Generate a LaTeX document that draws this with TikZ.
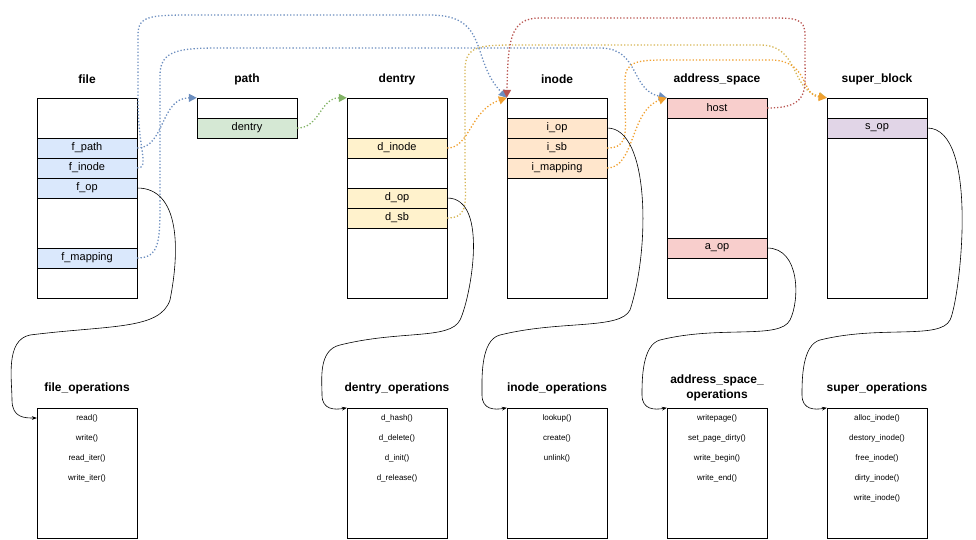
\documentclass[tikz,border=0pt]{standalone}
\usepackage{fontspec}
\setmainfont{Liberation Sans}
\usetikzlibrary{arrows.meta}
\definecolor{bF}{HTML}{DAE8FC}\definecolor{bL}{HTML}{6C8EBF}
\definecolor{gF}{HTML}{D5E8D4}\definecolor{gL}{HTML}{82B366}
\definecolor{yF}{HTML}{FFF2CC}\definecolor{yL}{HTML}{D6B656}
\definecolor{oF}{HTML}{FFE6CC}\definecolor{oL}{HTML}{F0A030}
\definecolor{rF}{HTML}{F8CECC}\definecolor{rL}{HTML}{B85450}
\definecolor{pF}{HTML}{E1D5E7}
\begin{document}
\begin{tikzpicture}[x=1pt,y=-1pt,
 box/.style={draw,minimum width=100pt,inner sep=0pt},
 row/.style={draw,minimum width=100pt,minimum height=20pt,inner sep=0pt,font=\fontsize{11}{11}\selectfont},
 ttl/.style={font=\bfseries\fontsize{12}{14}\selectfont,align=center},
 op/.style={font=\fontsize{8}{8}\selectfont},
 dl/.style={dotted,line width=1.3pt,-{Triangle[width=8pt,length=8pt]}},
 bl/.style={line width=0.6pt,-{Stealth[length=5pt]}}]
\useasboundingbox (0,0) rectangle (976,539);
% top boxes
\foreach \n/\x/\h in {file/87/200,dentry/397/200,inode/557/200,as/717/200,sb/877/200}
  \node[box,minimum height=\h pt] (\n) at (\x,198) {};
\node[box,minimum height=40pt] (path) at (247,118) {};
\node[ttl] (t1) at (87,79) {file};
\node[ttl] (t2) at (247,79) {path};
\node[ttl] (t3) at (397,79) {dentry};
\node[ttl] (t4) at (557,79) {inode};
\node[ttl] (t5) at (717,79) {address\_space};
\node[ttl] (t6) at (877,79) {super\_block};
% rows
\node[row,fill=bF] (fpath) at (87,148) {f\_path};
\node[row,fill=bF] (finode) at (87,168) {f\_inode};
\node[row,fill=bF] (fop) at (87,188) {f\_op};
\node[row,fill=bF] (fmap) at (87,258) {f\_mapping};
\node[row,fill=gF] (pden) at (247,128) {dentry};
\node[row,fill=yF] (dinode) at (397,148) {d\_inode};
\node[row,fill=yF] (dop) at (397,198) {d\_op};
\node[row,fill=yF] (dsb) at (397,218) {d\_sb};
\node[row,fill=oF] (iop) at (557,128) {i\_op};
\node[row,fill=oF] (isb) at (557,148) {i\_sb};
\node[row,fill=oF] (imap) at (557,168) {i\_mapping};
\node[row,fill=rF] (host) at (717,108) {host};
\node[row,fill=rF] (aop) at (717,248) {a\_op};
\node[row,fill=pF] (sop) at (877,128) {s\_op};
% bottom boxes
\foreach \n/\x in {fo/87,do/397,io/557,ao/717,so/877}
  \node[box,minimum height=130pt] (\n) at (\x,473) {};
\node[ttl] (b1) at (87,388) {file\_operations};
\node[ttl] (b2) at (397,388) {dentry\_operations};
\node[ttl] (b3) at (557,388) {inode\_operations};
\node[ttl,font=\bfseries\fontsize{12}{15}\selectfont] (b4) at (717,388) {address\_space\_\\operations};
\node[ttl] (b5) at (877,388) {super\_operations};
\foreach \t [count=\i] in {read(),write(),read\_iter(),write\_iter()}
  \node[op] (fo\i) at (87,398+20*\i) {\t};
\foreach \t [count=\i] in {d\_hash(),d\_delete(),d\_init(),d\_release()}
  \node[op] (do\i) at (397,398+20*\i) {\t};
\foreach \t [count=\i] in {lookup(),create(),unlink()}
  \node[op] (io\i) at (557,398+20*\i) {\t};
\foreach \t [count=\i] in {writepage(),set\_page\_dirty(),write\_begin(),write\_end()}
  \node[op] (ao\i) at (717,398+20*\i) {\t};
\foreach \t [count=\i] in {alloc\_inode(),destory\_inode(),free\_inode(),dirty\_inode(),write\_inode()}
  \node[op] (so\i) at (877,398+20*\i) {\t};
% dotted connectors
\draw[dl,bL] (fpath.east) .. controls (165,148) and (160,98) .. (path.north west);
\draw[dl,bL] (finode.east) .. controls (150,168) and (138,150) .. (138,100)
  -- (138,35) .. controls (138,15) and (150,15) .. (200,15) -- (430,15)
  .. controls (490,15) and (470,60) .. (inode.north west);
\draw[dl,bL] (fmap.east) .. controls (160,258) and (160,240) .. (160,200)
  -- (160,75) .. controls (160,50) and (180,48) .. (220,48) -- (600,48)
  .. controls (640,48) and (630,90) .. (as.north west);
\draw[dl,gL] (pden.east) .. controls (320,128) and (320,98) .. (dentry.north west);
\draw[dl,oL] (dinode.east) .. controls (470,148) and (470,110) .. (inode.north west);
\draw[dl,yL] (dsb.east) .. controls (470,218) and (465,200) .. (465,170)
  -- (465,70) .. controls (465,45) and (480,45) .. (520,45) -- (760,45)
  .. controls (800,45) and (790,90) .. (sb.north west);
\draw[dl,oL] (isb.east) .. controls (630,148) and (625,130) .. (625,100)
  -- (625,80) .. controls (625,60) and (640,60) .. (670,60) -- (770,60)
  .. controls (810,60) and (800,95) .. (sb.north west);
\draw[dl,oL] (imap.east) .. controls (635,168) and (630,110) .. (as.north west);
\draw[dl,rL] (host.east) .. controls (810,108) and (805,90) .. (805,60)
  -- (805,35) .. controls (805,18) and (795,18) .. (770,18) -- (540,18)
  .. controls (510,18) and (508,40) .. (inode.north west);
% solid connectors
\draw[bl] (fop.east) .. controls (180,188) and (180,250) .. (170,300)
  .. controls (160,330) and (110,325) .. (30,335)
  .. controls (5,340) and (12,380) .. (12,400)
  .. controls (12,418) and (25,418) .. (fo.north west |- fo1);
\draw[bl] (dop.east) .. controls (490,198) and (470,300) .. (460,320)
  .. controls (450,340) and (400,330) .. (340,345)
  .. controls (318,350) and (322,380) .. (322,395)
  .. controls (322,410) and (335,410) .. (do.north west);
\draw[bl] (iop.east) .. controls (650,128) and (650,250) .. (630,310)
  .. controls (620,330) and (560,320) .. (500,335)
  .. controls (480,340) and (482,380) .. (482,395)
  .. controls (482,410) and (495,410) .. (io.north west);
\draw[bl] (aop.east) .. controls (800,248) and (800,300) .. (790,320)
  .. controls (780,340) and (720,325) .. (660,340)
  .. controls (642,345) and (642,380) .. (642,395)
  .. controls (642,410) and (655,410) .. (ao.north west);
\draw[bl] (sop.east) .. controls (980,128) and (960,300) .. (950,320)
  .. controls (940,340) and (880,325) .. (820,340)
  .. controls (802,345) and (802,380) .. (802,395)
  .. controls (802,410) and (815,410) .. (so.north west);
\end{tikzpicture}
\end{document}
